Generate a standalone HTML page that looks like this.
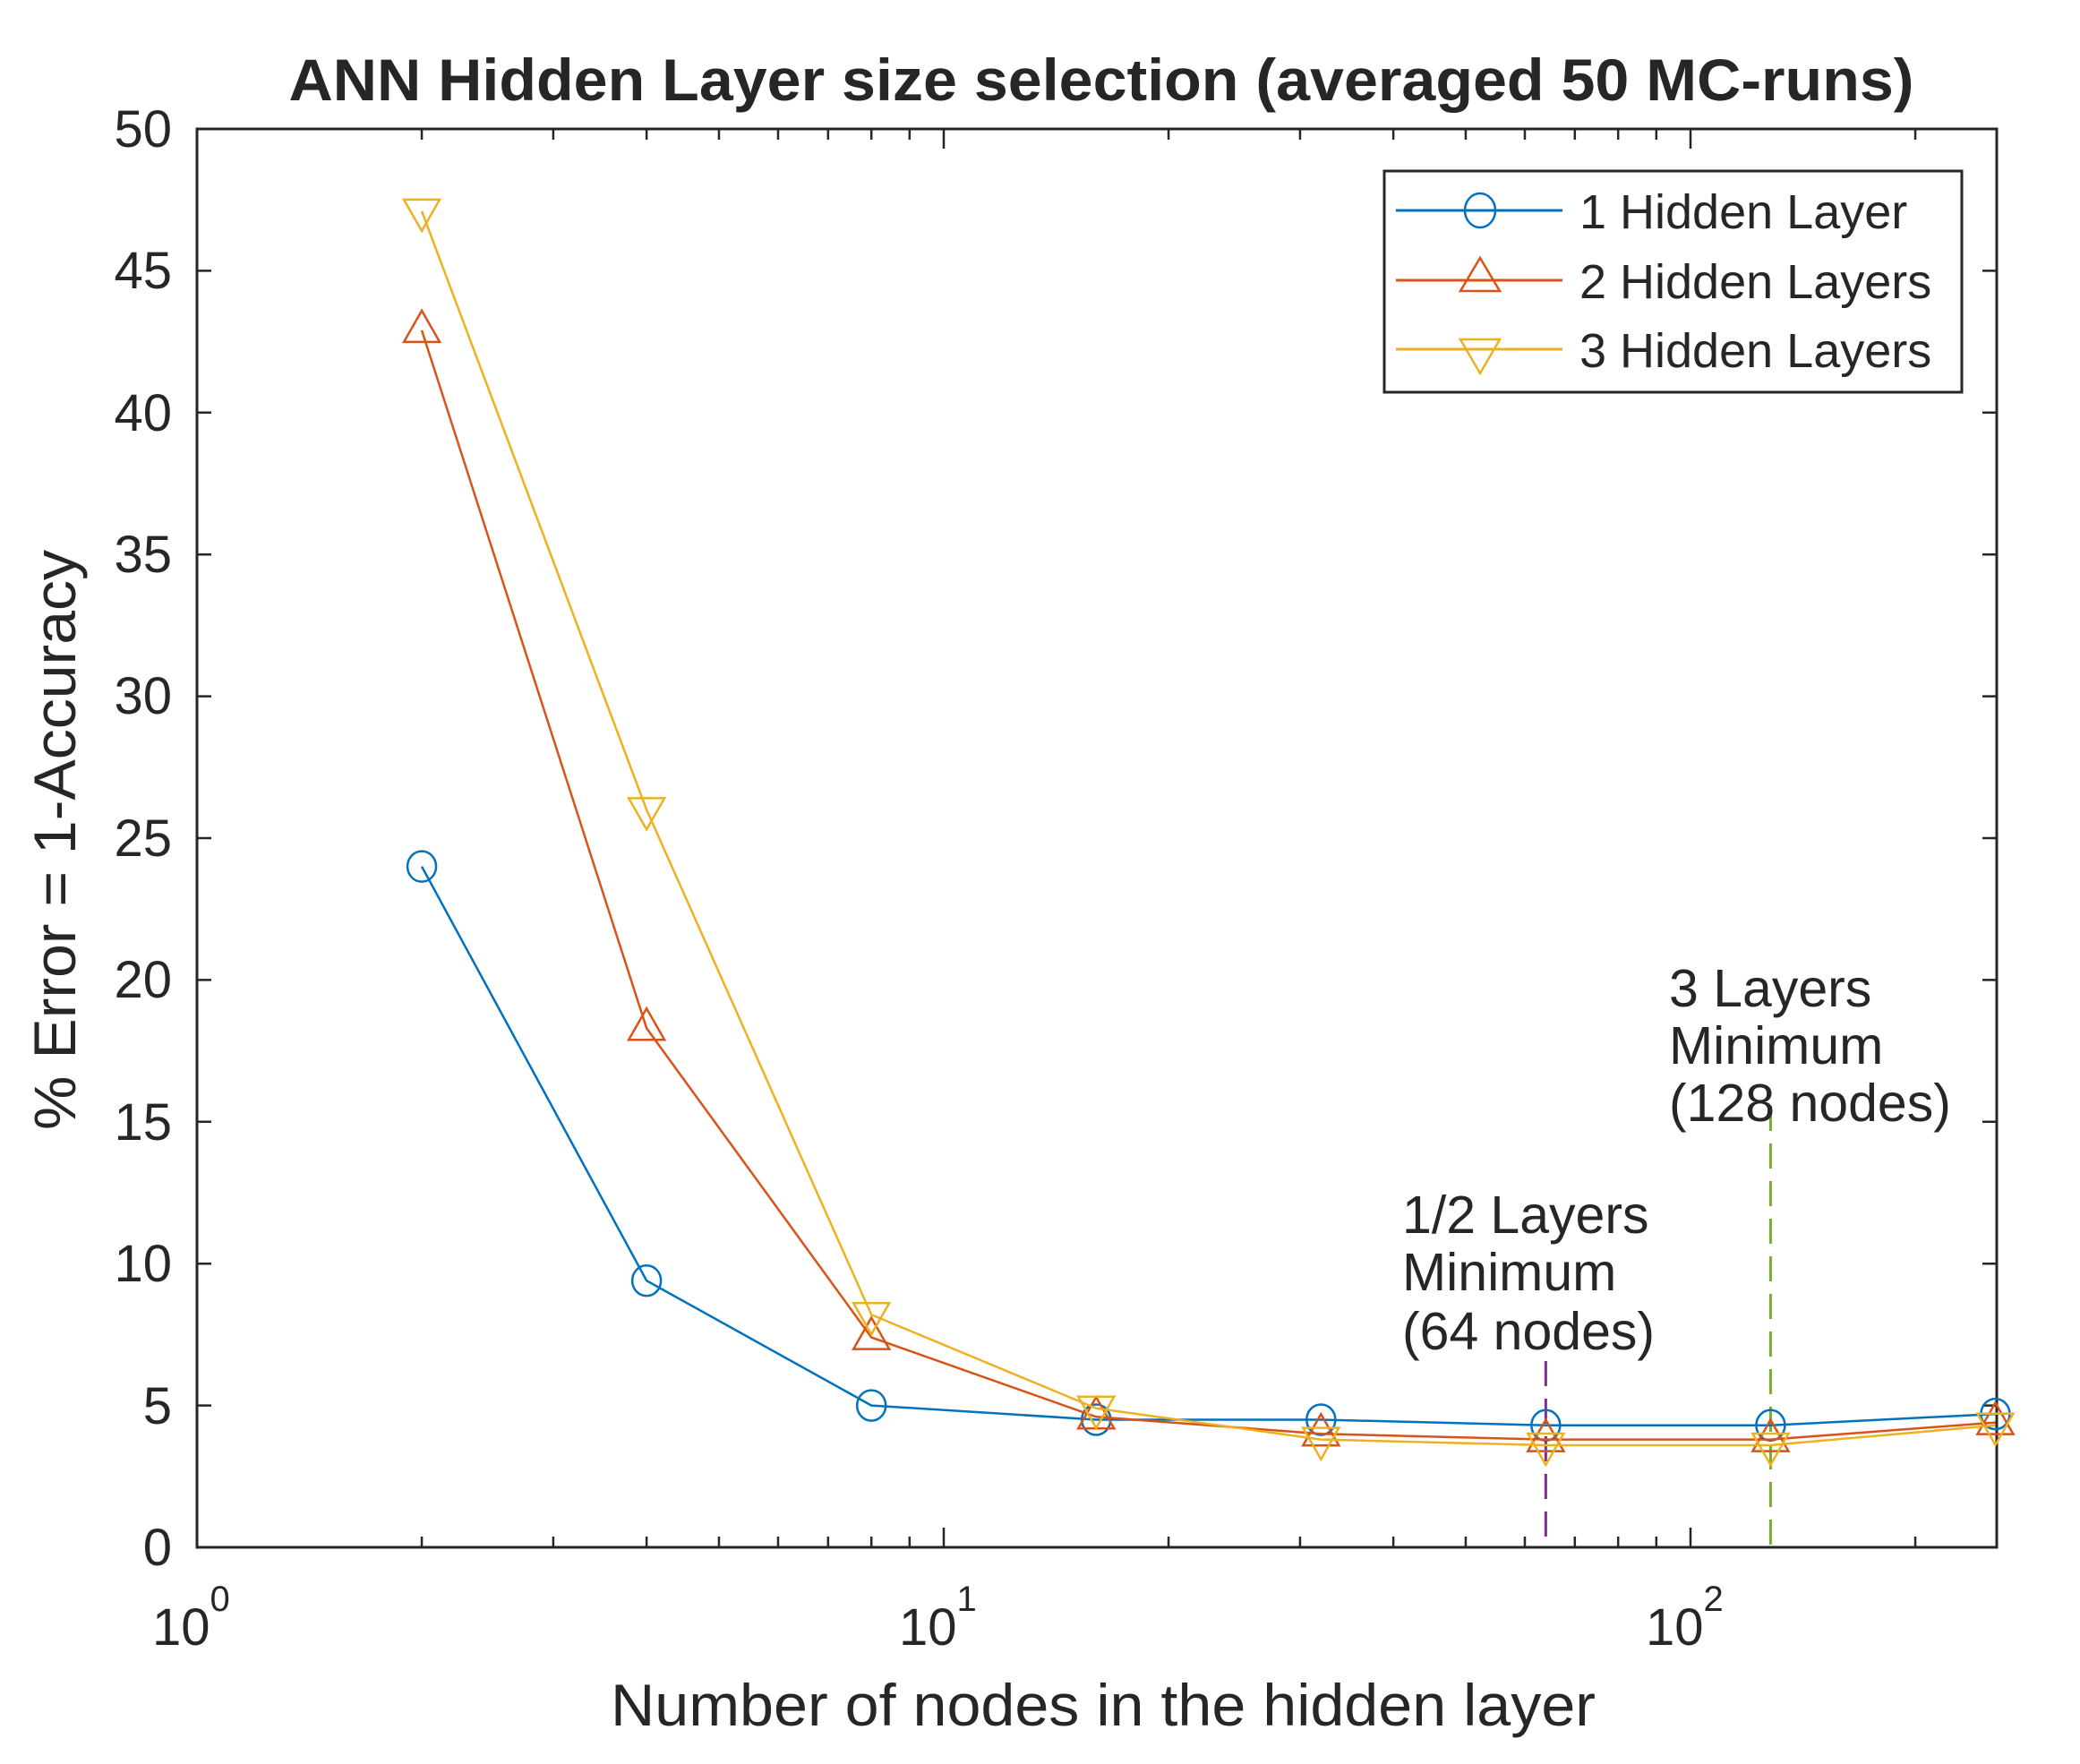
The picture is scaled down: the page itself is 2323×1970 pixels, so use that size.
<!DOCTYPE html>
<html><head><meta charset="utf-8"><style>
html,body{margin:0;padding:0;background:#fff;}
svg{display:block;}
text{font-family:"Liberation Sans",Arial,sans-serif;fill:#262626;}
</style></head><body>
<svg width="2323" height="1970" viewBox="0 0 2323 1970" xmlns="http://www.w3.org/2000/svg">
<rect width="2323" height="1970" fill="#fff"/>
<text x="1230" y="112" font-size="66" font-weight="bold" text-anchor="middle" fill="#000" textLength="1815" lengthAdjust="spacingAndGlyphs">ANN Hidden Layer size selection (averaged 50 MC-runs)</text>
<rect x="220" y="144" width="2010" height="1584" fill="#fff" stroke="#262626" stroke-width="3"/>
<g stroke="#262626" stroke-width="2.5">
<path d="M220 1728h16M220 1569.6h16M220 1411.2h16M220 1252.8h16M220 1094.4h16M220 936h16M220 777.6h16M220 619.2h16M220 460.8h16M220 302.4h16M220 144h16
M2230 1569.6h-16M2230 1411.2h-16M2230 1252.8h-16M2230 1094.4h-16M2230 936h-16M2230 777.6h-16M2230 619.2h-16M2230 460.8h-16M2230 302.4h-16"/>
</g>
<g stroke="#262626" stroke-width="2.5" id="xt"></g>
<g font-size="58" text-anchor="end">
<text x="192" y="1748">0</text><text x="192" y="1590">5</text><text x="192" y="1431">10</text><text x="192" y="1273">15</text><text x="192" y="1114">20</text><text x="192" y="956">25</text><text x="192" y="797">30</text><text x="192" y="639">35</text><text x="192" y="481">40</text><text x="192" y="322">45</text><text x="192" y="164">50</text>
</g>
<g font-size="58">
<text x="170" y="1837">10<tspan font-size="40" dy="-38">0</tspan></text>
<text x="1004" y="1837">10<tspan font-size="40" dy="-38">1</tspan></text>
<text x="1838" y="1837">10<tspan font-size="40" dy="-38">2</tspan></text>
</g>
<text x="1232" y="1927" font-size="66" text-anchor="middle" textLength="1100" lengthAdjust="spacingAndGlyphs">Number of nodes in the hidden layer</text>
<text transform="translate(84 938) rotate(-90)" font-size="66" text-anchor="middle" textLength="648" lengthAdjust="spacingAndGlyphs">% Error = 1-Accuracy</text>
<g id="series"></g>
<g font-size="59" fill="#000">
<text x="1566" y="1377">1/2 Layers</text><text x="1566" y="1441">Minimum</text><text x="1566" y="1507">(64 nodes)</text>
<text x="1864" y="1124">3 Layers</text><text x="1864" y="1188">Minimum</text><text x="1864" y="1252">(128 nodes)</text>
</g>
<g>
<rect x="1546" y="191" width="645" height="247" fill="#fff" stroke="#262626" stroke-width="3"/>
<line x1="1559" y1="235" x2="1745" y2="235" stroke="#0072BD" stroke-width="3"/>
<ellipse cx="1653" cy="235" rx="17" ry="19" fill="none" stroke="#0072BD" stroke-width="2.5"/>
<line x1="1559" y1="313" x2="1745" y2="313" stroke="#D95319" stroke-width="3"/>
<path d="M1653 288L1675 325H1631Z" fill="none" stroke="#D95319" stroke-width="2.5"/>
<line x1="1559" y1="390" x2="1745" y2="390" stroke="#EDB120" stroke-width="3"/>
<path d="M1653 417L1675 379H1631Z" fill="none" stroke="#EDB120" stroke-width="2.5"/>
<g font-size="54" fill="#000"><text x="1764" y="255">1 Hidden Layer</text><text x="1764" y="333">2 Hidden Layers</text><text x="1764" y="410">3 Hidden Layers</text></g>
</g>
<script>
var L=220,D=834,B=1728,U=31.68;
function X(v){return L+Math.log10(v)*D}
function Y(v){return B-v*U}
var ns="http://www.w3.org/2000/svg";
var xt=document.getElementById("xt"),d="";
for(var e=0;e<3;e++)for(var k=1;k<10;k++){var v=k*Math.pow(10,e);if(v>256)break;var x=X(v);var len=(k==1)?22:12;d+="M"+x+" "+B+"v-"+len+"M"+x+" 144v"+len;}
var p=document.createElementNS(ns,"path");p.setAttribute("d",d);xt.appendChild(p);
var s=document.getElementById("series");
function el(t,a){var e=document.createElementNS(ns,t);for(var k in a)e.setAttribute(k,a[k]);s.appendChild(e);return e;}
el("line",{x1:X(64),y1:1520,x2:X(64),y2:B,stroke:"#7E2F8E","stroke-width":3,"stroke-dasharray":"28 14"});
el("line",{x1:X(128),y1:1235,x2:X(128),y2:B,stroke:"#77AC30","stroke-width":3,"stroke-dasharray":"28 14"});
var xs=[2,4,8,16,32,64,128,256];
var S=[["#0072BD",[24,9.4,5.0,4.5,4.5,4.3,4.3,4.7],"o"],["#D95319",[42.9,18.3,7.4,4.6,4.0,3.8,3.8,4.4],"t"],["#EDB120",[47.1,26.0,8.2,4.9,3.8,3.6,3.6,4.3],"v"]];
S.forEach(function(q){var pts=xs.map(function(x,i){return X(x)+","+Y(q[1][i])}).join(" ");
el("polyline",{points:pts,fill:"none",stroke:q[0],"stroke-width":2.5});
xs.forEach(function(x,i){var cx=X(x),cy=Y(q[1][i]);
if(q[2]=="o")el("ellipse",{cx:cx,cy:cy,rx:16,ry:17,fill:"none",stroke:q[0],"stroke-width":2.5});
else if(q[2]=="t")el("path",{d:"M"+cx+" "+(cy-22)+"L"+(cx+20)+" "+(cy+13)+"H"+(cx-20)+"Z",fill:"none",stroke:q[0],"stroke-width":2.5});
else el("path",{d:"M"+cx+" "+(cy+22)+"L"+(cx+20)+" "+(cy-13)+"H"+(cx-20)+"Z",fill:"none",stroke:q[0],"stroke-width":2.5});});});
</script>
</svg>
</body></html>
